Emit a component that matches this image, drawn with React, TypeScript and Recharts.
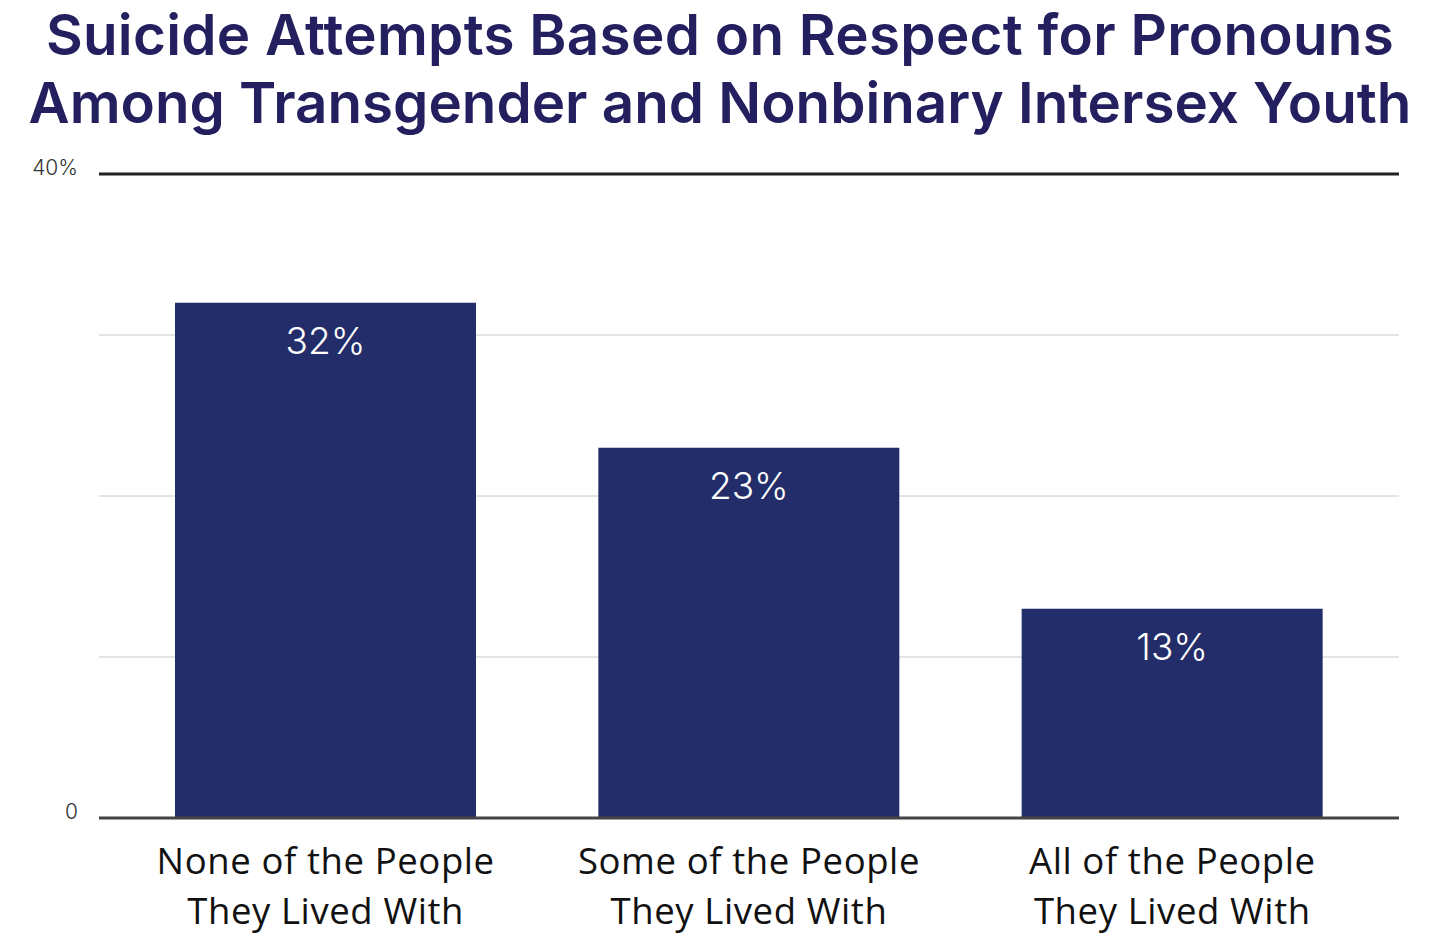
import React from "react";
import { BarChart, Bar, XAxis, YAxis, CartesianGrid, ReferenceLine, LabelList } from "recharts";

const categories = ["None of the People|They Lived With", "Some of the People|They Lived With", "All of the People|They Lived With"];
const values = [32, 23, 13];
const yTicks = [0, 10, 20, 30, 40];
const titleLines = ["Suicide Attempts Based on Respect for Pronouns", "Among Transgender and Nonbinary Intersex Youth"];

const data = categories.map((c, i) => ({ name: c, value: values[i] }));

const YTick = (props: any) => {
  const { x, y, payload } = props;
  const v = payload.value;
  if (v !== 0 && v !== 40) return null;
  return (
    <text x={x} y={y - 7} textAnchor="end" dominantBaseline="central" fill="#333" fontFamily="Inter" fontWeight={300} fontSize={21}>
      {v === 0 ? "0" : `${v}%`}
    </text>
  );
};

const XTick = (props: any) => {
  const { x, y, payload } = props;
  const lines = String(payload.value).split("|");
  return (
    <g>
      {lines.map((l, i) => (
        <text key={i} x={x} y={y + 48 + i * 50} textAnchor="middle" fill="#111" fontFamily="Open Sans" fontSize={36.5} letterSpacing={0.6}>
          {l}
        </text>
      ))}
    </g>
  );
};

export default function App() {
  return (
    <div style={{ position: "absolute", left: 0, top: 0, width: 1440, height: 951, background: "#fff" }}>
      {titleLines.map((t, i) => (
        <div key={i} style={{ position: "absolute", left: 0, width: 1440, top: 1 + i * 68, textAlign: "center", fontFamily: "Inter", fontWeight: 600, fontSize: 56.5, lineHeight: "68px", color: "#24205f", whiteSpace: "nowrap", letterSpacing: i === 0 ? 0.3 : 0 }}>
          {t}
        </div>
      ))}
      <BarChart width={1440} height={951} data={data} margin={{ top: 174, left: 0, right: 41, bottom: 0 }} barCategoryGap={0}>
        <CartesianGrid vertical={false} stroke="#c8c8c8" strokeWidth={1} />
        <YAxis domain={[0, 40]} ticks={yTicks} width={99} axisLine={false} tickLine={false} tickSize={0} tickMargin={21} tick={<YTick />} />
        <XAxis dataKey="name" height={133} padding={{ left: 15, right: 15 }} axisLine={{ stroke: "#444", strokeWidth: 3 }} tickLine={false} tick={<XTick />} interval={0} />
        <ReferenceLine y={40} stroke="#222" strokeWidth={3} />
        <Bar dataKey="value" fill="#232d69" barSize={301} isAnimationActive={false}>
          <LabelList dataKey="value" position="insideTop" offset={25} formatter={(v: any) => `${v}%`} fill="#fff" fontFamily="Inter" fontWeight={300} fontSize={37} />
        </Bar>
      </BarChart>
    </div>
  );
}
